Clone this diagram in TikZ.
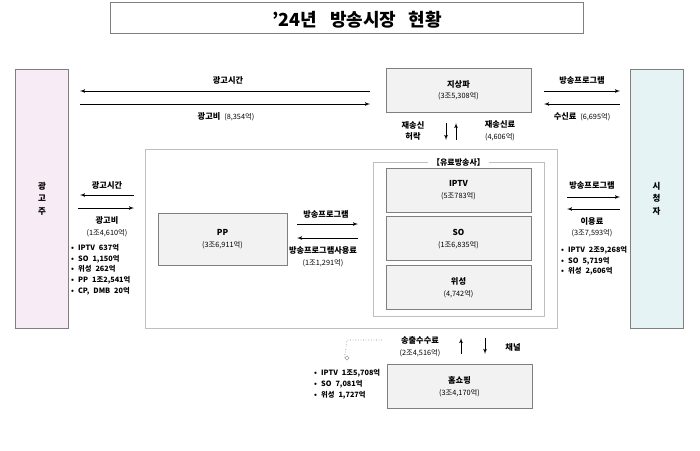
\documentclass[tikz,border=0pt]{standalone}
\usepackage{fontspec}
\setmainfont{Noto Sans CJK KR}
\usepackage{xcolor}
\usepackage{tikz}
\usetikzlibrary {positioning}
\usetikzlibrary{arrows}
\tikzset{edge/.style = {->,> = latex', line width=0.8pt}}
\definecolor{boxfill}{HTML}{F2F2F2}
\definecolor{boxline}{HTML}{7F7F7F}
\definecolor{frameline}{HTML}{BFBFBF}
\definecolor{adpink}{HTML}{F7EBF5}
\definecolor{viewcyan}{HTML}{E6F3F5}
\newcommand{\numsz}{\fontsize{7.3}{8.5}\selectfont}
\newcommand{\gap}{\hspace{4pt}}

\begin{document}
\begin{tikzpicture}[x=1pt,y=-1pt,
    main box/.style={draw=boxline,fill=boxfill,line width=0.8pt,minimum width=145pt,minimum height=44pt,inner sep=0pt,align=center,font=\fontsize{8.2}{11}\selectfont},
    side box/.style={draw=boxline,line width=0.8pt,minimum width=53pt,minimum height=259pt,inner sep=0pt,align=center,font=\bfseries\fontsize{8.5}{12.5}\selectfont},
    lbl/.style={inner sep=0pt,align=center,font=\bfseries\fontsize{8.2}{11.5}\selectfont},
    bullets/.style={anchor=north west,inner sep=0pt,align=left,font=\bfseries\fontsize{7.3}{10.8}\selectfont}]
    \useasboundingbox (0,0) rectangle (700,450);

    % title
    \node[draw=boxline,line width=0.8pt,minimum width=473pt,minimum height=31pt,anchor=north west] (title) at (110,2) {};
    \node[inner sep=0pt,font=\bfseries\fontsize{18}{19}\selectfont] (titletext) at (357,19.5) {’24년\hspace{9pt} 방송시장\hspace{8pt} 현황};

    % side boxes
    \node[side box,fill=adpink] (adv) at (42,198.5) {광\\고\\주};
    \node[side box,fill=viewcyan] (view) at (656.5,198.5) {시\\청\\자};

    % frames
    \draw[frameline,line width=0.8pt] (145,149) rectangle (557,328);
    \draw[frameline,line width=0.8pt] (373,162) rectangle (544,316);
    \node[fill=white,inner xsep=4pt,inner ysep=1pt,font=\bfseries\fontsize{8}{9}\selectfont] (paid) at (458.5,162) {【유료방송사】};

    % boxes
    \node[main box] (terr) at (458.5,90.5) {\textbf{지상파}\\\numsz (3조5,308억)};
    \node[main box] (iptv) at (458.5,190) {\textbf{IPTV}\\[1pt]\numsz (5조783억)};
    \node[main box] (so) [below=4pt of iptv] {\textbf{SO}\\[1pt]\numsz (1조6,835억)};
    \node[main box] (sat) [below=4pt of so] {\textbf{위성}\\[1pt]\numsz (4,742억)};
    \node[main box,minimum width=129pt,minimum height=52pt] (pp) at (222.5,239) {\textbf{PP}\\[1pt]\numsz (3조6,911억)};
    \node[main box] (shop) at (459.5,386.5) {\textbf{홈쇼핑}\\[1pt]\numsz (3조4,170억)};

    % top arrows
    \coordinate (t1) at (370,91); \coordinate (t2) at (80,91);
    \coordinate (t3) at (80,104); \coordinate (t4) at (370,104);
    \draw[edge] (t1) -- (t2);
    \draw[edge] (t3) -- (t4);
    \node[lbl] (adtime1) at (228,80) {광고시간};
    \node[lbl] (adfee1) at (226,117) {광고비\gap{\mdseries\numsz(8,354억)}};

    \coordinate (r1) at (544,91); \coordinate (r2) at (620,91);
    \coordinate (r3) at (620,104); \coordinate (r4) at (544,104);
    \draw[edge] (r1) -- (r2);
    \draw[edge] (r3) -- (r4);
    \node[lbl] (prog1) at (582,80) {방송프로그램};
    \node[lbl] (recv) at (582,117) {수신료\gap{\mdseries\numsz(6,695억)}};

    % retransmission
    \coordinate (d1) at (446,123); \coordinate (d2) at (446,140);
    \coordinate (u1) at (456,140); \coordinate (u2) at (456,123);
    \draw[edge] (d1) -- (d2);
    \draw[edge] (u1) -- (u2);
    \node[lbl] (perm) at (413,131) {재송신\\허락};
    \node[lbl] (refee) at (500,131) {재송신료\\{\mdseries\numsz(4,606억)}};

    % left inner arrows
    \coordinate (l1) at (134,195); \coordinate (l2) at (80,195);
    \coordinate (l3) at (78,208); \coordinate (l4) at (134,208);
    \draw[edge] (l1) -- (l2);
    \draw[edge] (l3) -- (l4);
    \node[lbl] (adtime2) at (107,185) {광고시간};
    \node[lbl] (adfee2) at (107,226.5) {광고비\\{\mdseries\numsz(1조4,610억)}};
    \node[bullets] (adlist) at (71,244) {•\gap IPTV\gap 637억\\•\gap SO\gap 1,150억\\•\gap 위성\gap 262억\\•\gap PP\gap 1조2,541억\\•\gap CP,\gap DMB\gap 20억};

    % PP to paid
    \coordinate (m1) at (297,224); \coordinate (m2) at (358,224);
    \coordinate (m3) at (358,238); \coordinate (m4) at (297,238);
    \draw[edge] (m1) -- (m2);
    \draw[edge] (m3) -- (m4);
    \node[lbl] (prog2) at (326,214) {방송프로그램};
    \node[lbl] (usefee) at (323,256.5) {방송프로그램사용료\\{\mdseries\numsz(1조1,291억)}};

    % right inner arrows
    \coordinate (s1) at (567,197); \coordinate (s2) at (620,197);
    \coordinate (s3) at (620,209); \coordinate (s4) at (567,209);
    \draw[edge] (s1) -- (s2);
    \draw[edge] (s3) -- (s4);
    \node[lbl] (prog3) at (592,185) {방송프로그램};
    \node[lbl] (fee) at (592,227) {이용료\\{\mdseries\numsz(3조7,593억)}};
    \node[bullets] (feelist) at (561,246) {•\gap IPTV\gap 2조9,268억\\•\gap SO\gap 5,719억\\•\gap 위성\gap 2,606억};

    % home shopping
    \coordinate (h1) at (461,354); \coordinate (h2) at (461,338);
    \coordinate (h3) at (485,338); \coordinate (h4) at (485,354);
    \draw[edge] (h1) -- (h2);
    \draw[edge] (h3) -- (h4);
    \node[lbl] (sendfee) at (420,347) {송출수수료\\{\mdseries\numsz(2조4,516억)}};
    \node[lbl] (chan) at (513,347) {채널};
    \coordinate (q1) at (382,340); \coordinate (q2) at (347,340);
    \node[draw=boxline,fill=white,rotate=45,minimum size=3pt,inner sep=0pt,line width=0.5pt] (tip) at (347,358) {};
    \draw[boxline,dotted,line width=0.6pt] (q1) -- (q2) -- (tip.north west);
    \node[bullets] (shoplist) at (314,369.5) {•\gap IPTV\gap 1조5,708억\\•\gap SO\gap 7,081억\\•\gap 위성\gap 1,727억};
\end{tikzpicture}
\end{document}
